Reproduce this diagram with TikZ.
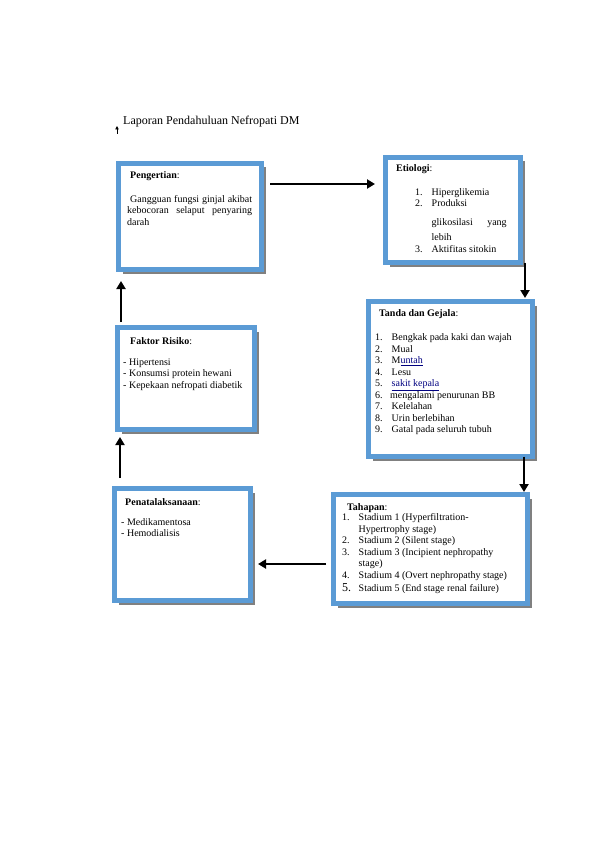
\documentclass[tikz,border=0pt]{standalone}
\usepackage{fontspec}
\setmainfont{Liberation Serif}
\usetikzlibrary{arrows.meta,shadows}

\definecolor{kotak}{RGB}{91,155,213}
\definecolor{tautan}{RGB}{0,0,128}

\newcommand{\nomor}[1]{\makebox[16.5pt][l]{#1}}
\newcommand{\tautanbiru}[1]{{\color{tautan}\underline{#1}}}

\begin{document}
\begin{tikzpicture}[x=1pt, y=-1pt,
        font=\fontsize{10}{11.5}\selectfont,
        kotakbiru/.style={draw=kotak, line width=5pt, fill=white, inner sep=0pt, outer sep=0pt, anchor=north west,
            drop shadow={shadow xshift=4pt, shadow yshift=-4pt, fill=black!50, opacity=1}},
        judul/.style={inner sep=0pt, anchor=base west},
        isi/.style={inner sep=0pt, anchor=north west, align=left},
        panah/.style={line width=2.6pt, -{Triangle[length=8pt,width=9pt]}}] %A4
            \useasboundingbox[fill=white] (0,0) rectangle (595,842);

            \node[judul, font=\fontsize{12}{14}\selectfont] (laporan) at (123,125) {Laporan Pendahuluan Nefropati DM};
            \draw[line width=0.8pt, -{Triangle[length=3.5pt,width=3.5pt]}] ([shift={(-6,9)}]laporan.base west) -- ([shift={(-6,1)}]laporan.base west);

            % kotak-kotak
            \node[kotakbiru, minimum width=143pt, minimum height=106pt] (peng) at (118.5,163.5) {};
            \node[kotakbiru, minimum width=135pt, minimum height=105pt] (etio) at (385.5,157.5) {};
            \node[kotakbiru, minimum width=164pt, minimum height=155pt] (tanda) at (368.5,301.5) {};
            \node[kotakbiru, minimum width=137pt, minimum height=102pt] (faktor) at (117.5,327.5) {};
            \node[kotakbiru, minimum width=194pt, minimum height=109pt] (tahap) at (333.5,494.5) {};
            \node[kotakbiru, minimum width=136pt, minimum height=112pt] (penata) at (114.5,488.5) {};

            % isi
            \node[judul] (pengJudul) at (130,179) {\textbf{Pengertian}:};
            \node[isi, text width=125pt, align=justify] (pengIsi) at (127,195) {\hspace*{3pt}Gangguan fungsi ginjal akibat kebocoran selaput penyaring darah};

            \node[judul] (etioJudul) at (396,171.7) {\textbf{Etiologi}:};
            \node[isi] (etioIsi) at (415,188.2) {\nomor{1.}Hiperglikemia\\
                \nomor{2.}Produksi\\[7pt]
                \hspace*{16.5pt}\makebox[75pt][s]{glikosilasi\hfill yang}\\[4pt]
                \hspace*{16.5pt}lebih\\
                \nomor{3.}Aktifitas sitokin};

            \node[judul] (tandaJudul) at (379,316.7) {\textbf{Tanda dan Gejala}:};
            \node[isi] (tandaIsi) at (375,333.7) {\nomor{1.}Bengkak pada kaki dan wajah\\
                \nomor{2.}Mual\\
                \nomor{3.}M\tautanbiru{untah}\\
                \nomor{4.}Lesu\\
                \nomor{5.}\tautanbiru{sakit kepala}\\
                \nomor{6.}\hspace*{-1.5pt}mengalami penurunan BB\\
                \nomor{7.}Kelelahan\\
                \nomor{8.}Urin berlebihan\\
                \nomor{9.}Gatal pada seluruh tubuh};

            \node[judul] (faktorJudul) at (130,344.3) {\textbf{Faktor Risiko}:};
            \node[isi] (faktorIsi) at (123,358.3) {- Hipertensi\\- Konsumsi protein hewani\\- Kepekaan nefropati diabetik};

            \node[judul] (tahapJudul) at (347,510) {\textbf{Tahapan}:};
            \node[isi] (tahapIsi) at (342,513.3) {\nomor{1.}Stadium 1 (Hyperfiltration-\\
                \hspace*{16.5pt}Hypertrophy stage)\\
                \nomor{2.}Stadium 2 (Silent stage)\\
                \nomor{3.}Stadium 3 (Incipient nephropathy\\
                \hspace*{16.5pt}stage)\\
                \nomor{4.}Stadium 4 (Overt nephropathy stage)\\[1.5pt]
                \nomor{\fontsize{12}{14}\selectfont 5.}Stadium 5 (End stage renal failure)};

            \node[judul] (penataJudul) at (125,505) {\textbf{Penatalaksanaan}:};
            \node[isi] (penataIsi) at (121,518.3) {- Medikamentosa\\- Hemodialisis};

            % panah
            \draw[panah] ([shift={(8.5,20.5)}]peng.north east) -- ([shift={(-10.5,26.5)}]etio.north west);
            \draw[panah] ([shift={(4.5,0)}]etio.south east) -- ([shift={(-7.5,-3.5)}]tanda.north east);
            \draw[panah] ([shift={(-8.5,0)}]tanda.south east) -- ([shift={(-3.5,-2.5)}]tahap.north east);
            \draw[panah] ([shift={(-7.5,69.5)}]tahap.north west) -- ([shift={(7.5,75.5)}]penata.north east);
            \draw[panah] ([shift={(5.5,-10.5)}]penata.north west) -- ([shift={(2.5,7.5)}]faktor.south west);
            \draw[panah] ([shift={(3.5,-5.5)}]faktor.north west) -- ([shift={(2.5,11.5)}]peng.south west);
        \end{tikzpicture}
\end{document}
